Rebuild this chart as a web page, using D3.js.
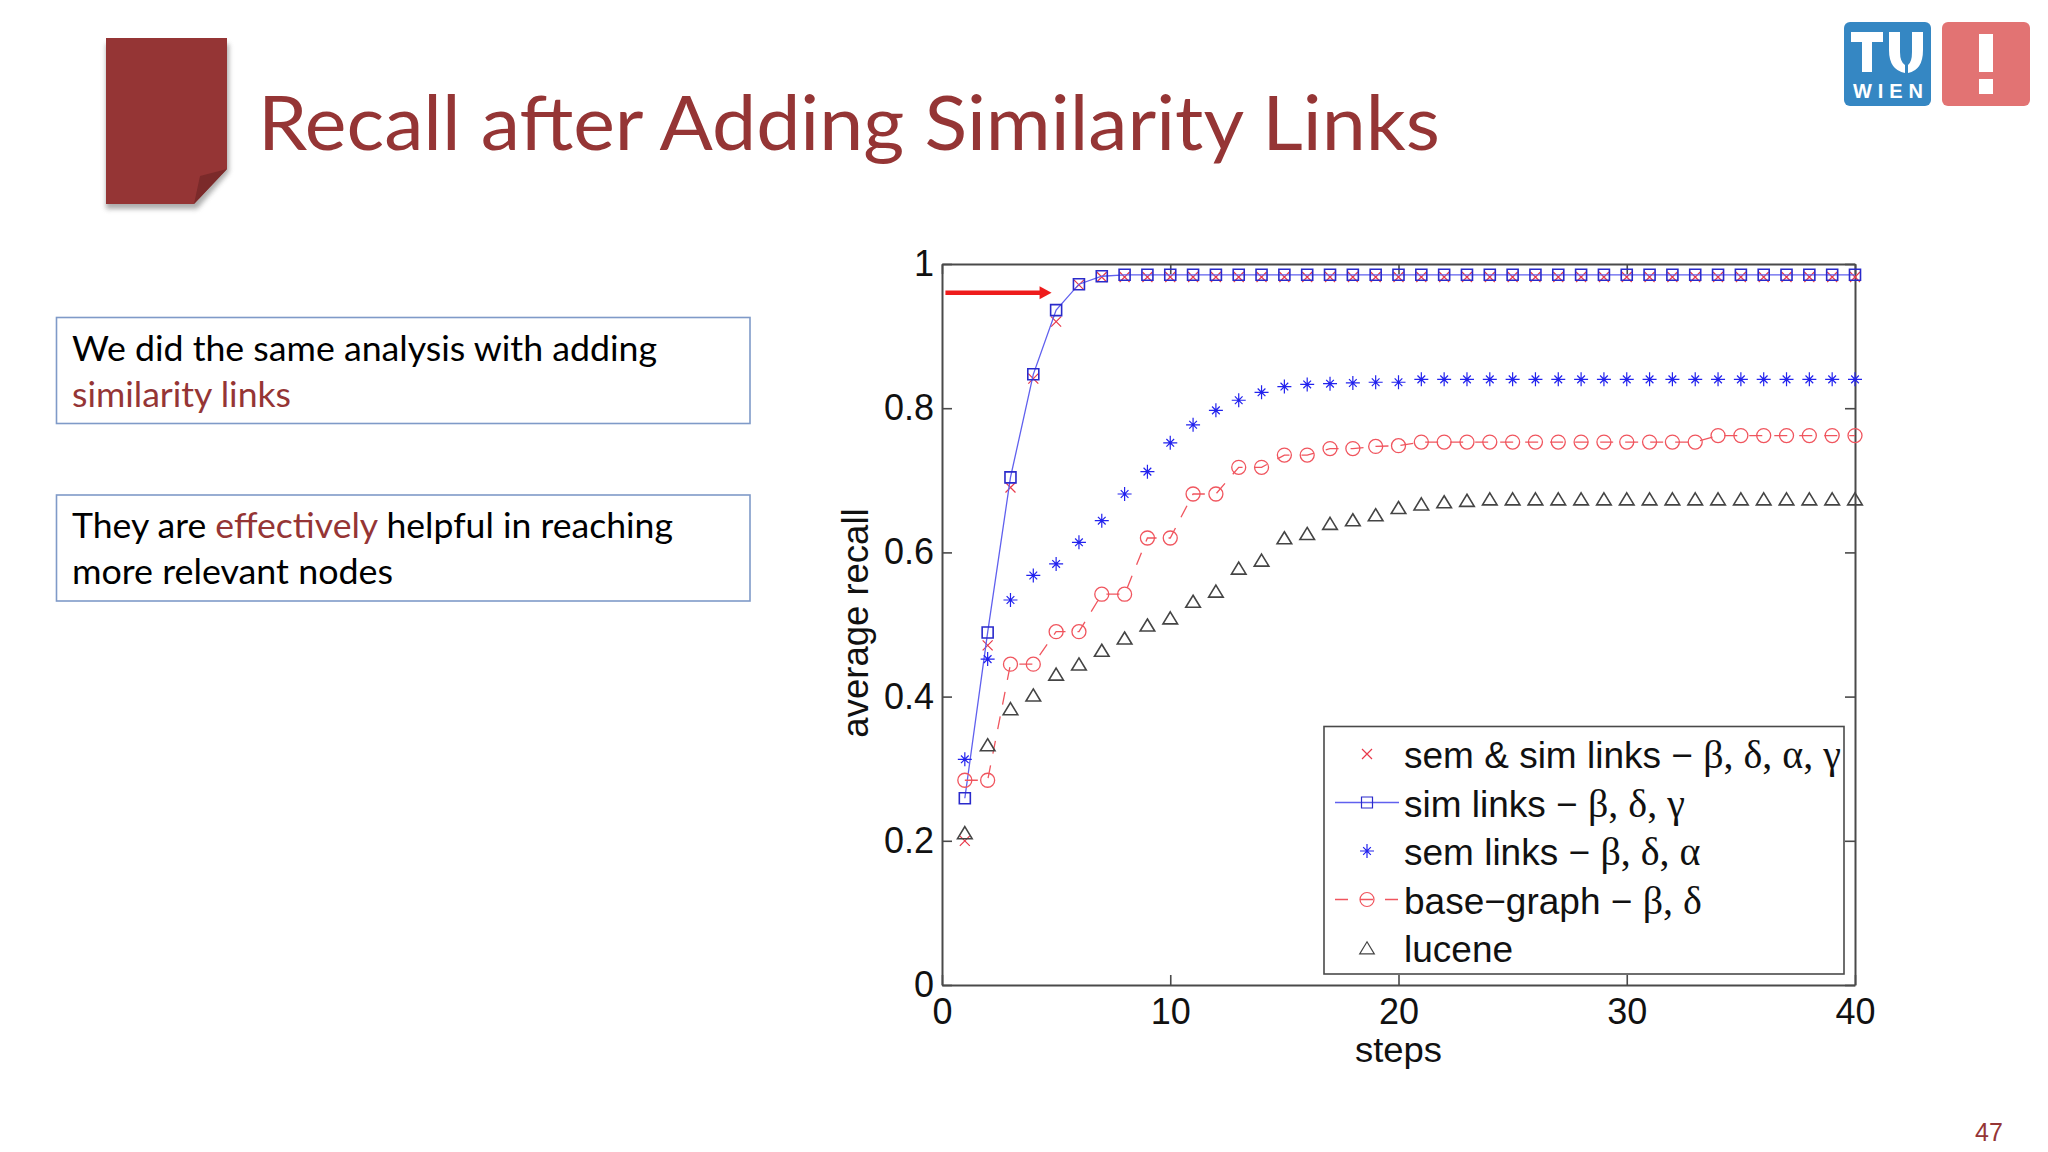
<!DOCTYPE html>
<html>
<head>
<meta charset="utf-8">
<title>Recall after Adding Similarity Links</title>
<script src="https://cdn.jsdelivr.net/npm/d3@7"></script>
<style>
  html, body { margin: 0; padding: 0; background: #fff; }
  svg { display: block; }
  .slide { font-family: Lato, "Open Sans", sans-serif; }
  .plot text { font-family: "Liberation Sans", Arial, sans-serif; fill: #111; }
  .plot .greek { font-family: "Liberation Serif", "Times New Roman", serif; font-size: 40px; }
</style>
</head>
<body>
<svg id="chart" width="2048" height="1152"></svg>
<script>
var xTicks = [0, 10, 20, 30, 40];
var yTicks = [0, 0.2, 0.4, 0.6, 0.8, 1];
var yTickLabels = ["0", "0.2", "0.4", "0.6", "0.8", "1"];
var steps = d3.range(1, 41);

var semSim = [0.200, 0.471, 0.690, 0.841, 0.920, 0.971, 0.982, 0.982, 0.982, 0.982,
              0.982, 0.982, 0.982, 0.982, 0.982, 0.982, 0.982, 0.982, 0.982, 0.982,
              0.982, 0.982, 0.982, 0.982, 0.982, 0.982, 0.982, 0.982, 0.982, 0.982,
              0.982, 0.982, 0.982, 0.982, 0.982, 0.982, 0.982, 0.982, 0.982, 0.982];
var simLinks = [0.259, 0.489, 0.704, 0.847, 0.936, 0.972, 0.983, 0.985, 0.985, 0.985,
                0.985, 0.985, 0.985, 0.985, 0.985, 0.985, 0.985, 0.985, 0.985, 0.985,
                0.985, 0.985, 0.985, 0.985, 0.985, 0.985, 0.985, 0.985, 0.985, 0.985,
                0.985, 0.985, 0.985, 0.985, 0.985, 0.985, 0.985, 0.985, 0.985, 0.985];
var semLinks = [0.313, 0.452, 0.534, 0.568, 0.584, 0.614, 0.644, 0.681, 0.712, 0.752,
                0.777, 0.797, 0.811, 0.822, 0.830, 0.833, 0.834, 0.835, 0.836, 0.836,
                0.840, 0.840, 0.840, 0.840, 0.840, 0.840, 0.840, 0.840, 0.840, 0.840,
                0.840, 0.840, 0.840, 0.840, 0.840, 0.840, 0.840, 0.840, 0.840, 0.840];
var baseGraph = [0.284, 0.284, 0.445, 0.445, 0.490, 0.490, 0.542, 0.542, 0.620, 0.620,
                 0.681, 0.681, 0.718, 0.718, 0.735, 0.735, 0.744, 0.744, 0.747, 0.748,
                 0.753, 0.753, 0.753, 0.753, 0.753, 0.753, 0.753, 0.753, 0.753, 0.753,
                 0.753, 0.753, 0.753, 0.762, 0.762, 0.762, 0.762, 0.762, 0.762, 0.762];
var lucene = [0.211, 0.333, 0.383, 0.402, 0.431, 0.445, 0.464, 0.481, 0.499, 0.509,
              0.532, 0.546, 0.578, 0.589, 0.620, 0.626, 0.640, 0.645, 0.652, 0.662,
              0.667, 0.670, 0.672, 0.674, 0.674, 0.674, 0.674, 0.674, 0.674, 0.674,
              0.674, 0.674, 0.674, 0.674, 0.674, 0.674, 0.674, 0.674, 0.674, 0.674];

var legendNames = ["sem & sim links \u2212 ", "sim links \u2212 ", "sem links \u2212 ", "base\u2212graph \u2212 ", "lucene"];
var legendGreek = ["\u03b2, \u03b4, \u03b1, \u03b3", "\u03b2, \u03b4, \u03b3", "\u03b2, \u03b4, \u03b1", "\u03b2, \u03b4", ""];

var titleText = "Recall after Adding Similarity Links";
var noteLines = [
  [{ t: "We did the same analysis with adding", red: false }],
  [{ t: "similarity links", red: true }],
  [{ t: "They are ", red: false }, { t: "effectively", red: true }, { t: " helpful in reaching", red: false }],
  [{ t: "more relevant nodes", red: false }]
];

var darkRed = "#953535";
var svg = d3.select("#chart");

// markers, drawn through d3.symbol with size as half width
var markX = { draw: function(c, s) { c.moveTo(-s, -s); c.lineTo(s, s); c.moveTo(-s, s); c.lineTo(s, -s); } };
var markSquare = { draw: function(c, s) { c.rect(-s, -s, 2 * s, 2 * s); } };
var markCircle = { draw: function(c, s) { c.moveTo(s, 0); c.arc(0, 0, s, 0, 2 * Math.PI); } };
var markTriangle = { draw: function(c, s) { c.moveTo(0, -s * 0.85); c.lineTo(s, s * 0.8); c.lineTo(-s, s * 0.8); c.closePath(); } };
var markStar = { draw: function(c, s) {
  c.moveTo(-s, 0); c.lineTo(s, 0); c.moveTo(0, -s); c.lineTo(0, s);
  var d = s * 0.55;
  c.moveTo(-d, -d); c.lineTo(d, d); c.moveTo(-d, d); c.lineTo(d, -d);
} };

var series = [
  { values: semSim, mark: markX, size: 5, color: "#e8394a", width: 1.2, line: false, dash: null },
  { values: simLinks, mark: markSquare, size: 5.5, color: "#2a2acb", lineColor: "#6060ee", width: 1.6, line: true, dash: null },
  { values: semLinks, mark: markStar, size: 7, color: "#2222ee", width: 1.2, line: false, dash: null },
  { values: baseGraph, mark: markCircle, size: 7, color: "#f0555e", lineColor: "#f0555e", width: 1.3, line: true, dash: "13 12" },
  { values: lucene, mark: markTriangle, size: 7.3, color: "#444", width: 1.6, line: false, dash: null }
];

// slide furniture
svg.append("rect").attr("width", 2048).attr("height", 1152).attr("fill", "#fff");

var defs = svg.append("defs");
var blur = defs.append("filter").attr("id", "soft").attr("x", "-20%").attr("y", "-20%").attr("width", "140%").attr("height", "140%");
blur.append("feGaussianBlur").attr("stdDeviation", 2.5);

svg.append("path").attr("d", "M106,44 L229,44 L229,172 L197,209 L106,209 Z")
    .attr("fill", "#777").attr("opacity", 0.6).attr("filter", "url(#soft)");
svg.append("path").attr("d", "M106,38 L227,38 L227,169 L194,204 L106,204 Z").attr("fill", darkRed);
svg.append("path").attr("d", "M194,204 L200,176 L227,169 Z").attr("fill", "#7b2a2a");

svg.append("text").attr("class", "slide")
    .attr("x", 258).attr("y", 150)
    .attr("font-size", 76)
    .attr("fill", darkRed)
    .attr("textLength", 1182).attr("lengthAdjust", "spacingAndGlyphs")
    .text(titleText);

// note boxes
var boxTop = [317.5, 495];
svg.selectAll(".note-box").data(boxTop).enter().append("rect")
    .attr("class", "note-box")
    .attr("x", 56.5).attr("y", function(d) { return d; })
    .attr("width", 693.5).attr("height", 106)
    .attr("fill", "#fff").attr("stroke", "#7f9ac8").attr("stroke-width", 1.6);

var noteY = [361, 407, 538, 584];
var noteW = [585, 219, 601, 321];
var noteText = svg.selectAll(".note").data(noteLines).enter().append("text")
    .attr("class", "slide note")
    .attr("x", 72)
    .attr("y", function(d, i) { return noteY[i]; })
    .attr("font-size", 35)
    .attr("textLength", function(d, i) { return noteW[i]; })
    .attr("lengthAdjust", "spacingAndGlyphs");
noteText.selectAll("tspan").data(function(d) { return d; }).enter().append("tspan")
    .attr("fill", function(d) { return d.red ? darkRed : "#000"; })
    .attr("xml:space", "preserve")
    .text(function(d) { return d.t; });

// logos
svg.append("rect").attr("x", 1844).attr("y", 22).attr("width", 87).attr("height", 84).attr("rx", 6).attr("fill", "#3587c3");
svg.append("path").attr("fill", "#fff")
    .attr("d", "M1851,32 L1883,32 L1883,42 L1872,42 L1872,72 L1862,72 L1862,42 L1851,42 Z");
svg.append("path").attr("fill", "#fff")
    .attr("d", "M1889,32 L1900,32 L1900,52 Q1900,62 1905,65 L1905,73 Q1889,70 1889,50 Z");
svg.append("path").attr("fill", "#fff")
    .attr("d", "M1912,32 L1923,32 L1923,50 Q1923,70 1908,73 L1908,65 Q1912,62 1912,52 Z");
svg.append("text").attr("x", 1853).attr("y", 98)
    .attr("font-family", "Liberation Sans, Arial, sans-serif").attr("font-weight", "bold")
    .attr("font-size", 20).attr("fill", "#fff")
    .attr("textLength", 70).attr("lengthAdjust", "spacing").text("WIEN");
svg.append("rect").attr("x", 1942).attr("y", 22).attr("width", 88).attr("height", 84).attr("rx", 6).attr("fill", "#e27373");
svg.append("rect").attr("x", 1979).attr("y", 34).attr("width", 14).attr("height", 38).attr("fill", "#fff");
svg.append("rect").attr("x", 1979).attr("y", 79).attr("width", 14).attr("height", 15).attr("fill", "#fff");

svg.append("text")
    .attr("x", 1989).attr("y", 1141).attr("text-anchor", "middle")
    .attr("font-family", "Liberation Sans, Arial, sans-serif")
    .attr("font-size", 25).attr("fill", darkRed).text("47");

// the plot
var plot = svg.append("g").attr("class", "plot");

var x = d3.scaleLinear().domain([0, 40]).range([942, 1855]);
var y = d3.scaleLinear().domain([0, 1]).range([985, 264]);

var yAxisLeft = d3.axisLeft(y).tickValues(yTicks)
    .tickFormat(function(d, i) { return yTickLabels[i]; })
    .tickSizeInner(-10).tickSizeOuter(0).tickPadding(8);
var yAxisRight = d3.axisRight(y).tickValues(yTicks).tickFormat("").tickSizeInner(-10).tickSizeOuter(0);
var xAxisBottom = d3.axisBottom(x).tickValues(xTicks).tickSizeInner(-10).tickSizeOuter(0).tickPadding(13);
var xAxisTop = d3.axisTop(x).tickValues(xTicks).tickFormat("").tickSizeInner(-10).tickSizeOuter(0);

var axes = [
  { axis: yAxisLeft, tx: x(0), ty: 0 },
  { axis: yAxisRight, tx: x(40), ty: 0 },
  { axis: xAxisBottom, tx: 0, ty: y(0) },
  { axis: xAxisTop, tx: 0, ty: y(1) }
];
axes.forEach(function(a) {
  var g = plot.append("g").attr("transform", "translate(" + a.tx + "," + a.ty + ")").call(a.axis);
  g.selectAll("text").attr("font-size", 36).attr("font-family", null);
  g.selectAll("path, line").attr("stroke", "#4a4a4a").attr("stroke-width", 2);
  g.selectAll("line").attr("stroke-width", 1.6);
});

plot.append("text").attr("x", x(20)).attr("y", 1061.5).attr("text-anchor", "middle").attr("font-size", 35)
    .attr("textLength", 87).attr("lengthAdjust", "spacingAndGlyphs").text("steps");
plot.append("text")
    .attr("transform", "translate(868,623) rotate(-90)")
    .attr("text-anchor", "middle").attr("font-size", 36.5).text("average recall");

var line = d3.line().x(function(d, i) { return x(steps[i]); }).y(function(d) { return y(d); });
var symbol = d3.symbol();

series.forEach(function(s) {
  if (s.line) {
    plot.append("path").datum(s.values)
        .attr("d", line)
        .attr("fill", "none")
        .attr("stroke", s.lineColor)
        .attr("stroke-width", 1.3)
        .attr("stroke-dasharray", s.dash);
  }
  plot.append("g").selectAll("path").data(s.values).enter().append("path")
      .attr("d", symbol.type(s.mark).size(s.size)())
      .attr("transform", function(d, i) { return "translate(" + x(steps[i]) + "," + y(d) + ")"; })
      .attr("fill", "none")
      .attr("stroke", s.color)
      .attr("stroke-width", s.width);
});

// red arrow pointing at the sim links curve
var arrowX = [0.15, 4.8];
var arrowY = 0.96;
plot.append("line")
    .attr("x1", x(arrowX[0])).attr("x2", x(arrowX[1]) - 10)
    .attr("y1", y(arrowY)).attr("y2", y(arrowY))
    .attr("stroke", "#ee1c1c").attr("stroke-width", 4.5);
plot.append("path")
    .attr("d", d3.line()([[x(arrowX[1]) - 12, y(arrowY) - 6.5], [x(arrowX[1]), y(arrowY)], [x(arrowX[1]) - 12, y(arrowY) + 6.5]]))
    .attr("fill", "#ee1c1c");

// legend
var legend = plot.append("g");
legend.append("rect").attr("x", 1324).attr("y", 726.5).attr("width", 520).attr("height", 247.5)
    .attr("fill", "#fff").attr("stroke", "#4a4a4a").attr("stroke-width", 1.6);

var legendY = d3.scalePoint().domain(d3.range(5)).range([754, 948]);
series.forEach(function(s, i) {
  var ly = legendY(i);
  if (s.line) {
    legend.append("line").attr("x1", 1335).attr("x2", 1399).attr("y1", ly).attr("y2", ly)
        .attr("stroke", s.lineColor).attr("stroke-width", 1.3)
        .attr("stroke-dasharray", s.dash);
  }
  legend.append("path")
      .attr("d", symbol.type(s.mark).size(s.size)())
      .attr("transform", "translate(1367," + ly + ")")
      .attr("fill", "none").attr("stroke", s.color).attr("stroke-width", 1.2);
  var label = legend.append("text").attr("x", 1404).attr("y", ly + 14).attr("font-size", 37)
      .attr("xml:space", "preserve");
  label.append("tspan").text(legendNames[i]);
  label.append("tspan").attr("class", "greek").text(legendGreek[i]);
});
</script>
</body>
</html>
